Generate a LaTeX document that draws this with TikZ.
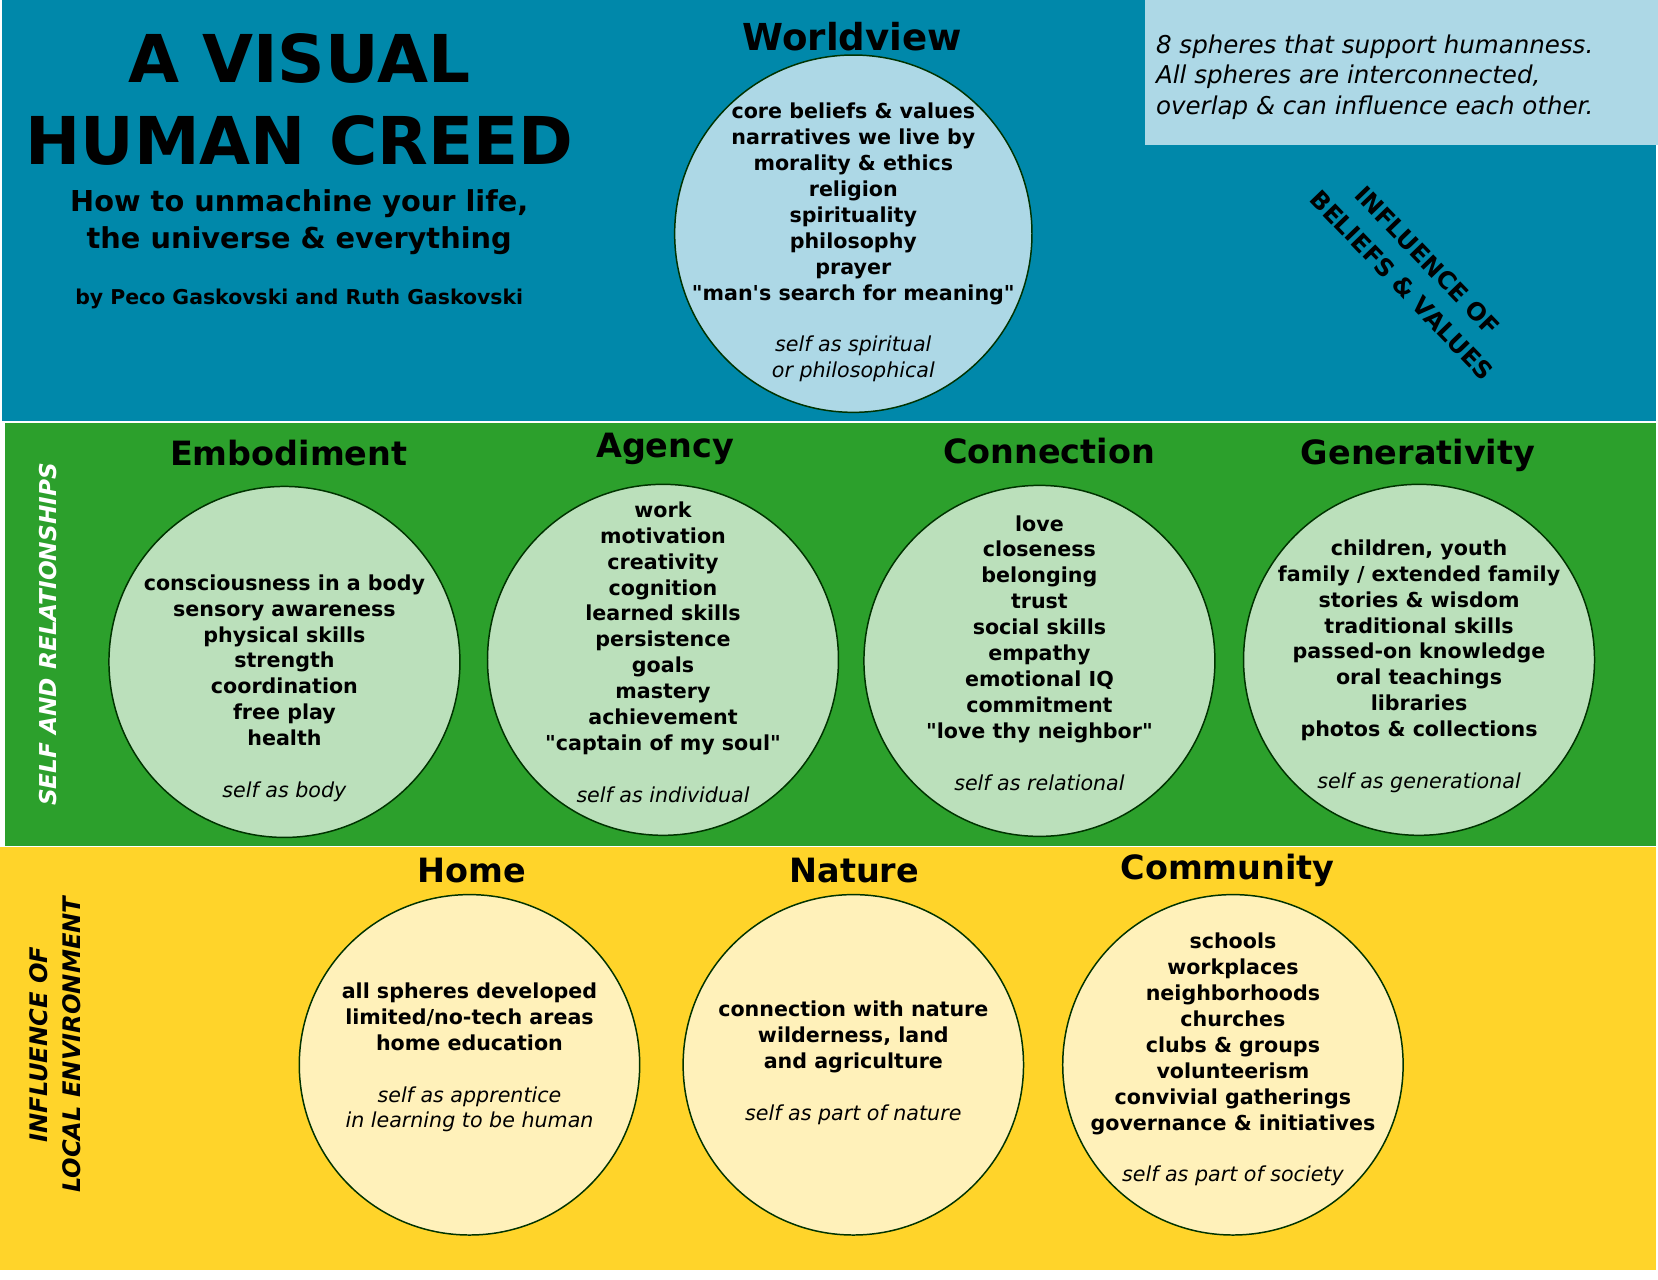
\documentclass[tikz,border=0pt]{standalone}
\usepackage{fontspec}
\setmainfont{DejaVu Sans}[Ligatures=TeXOff]
\definecolor{cblue}{HTML}{0088AA}
\definecolor{clblue}{HTML}{ADD8E6}
\definecolor{cgreen}{HTML}{2CA02C}
\definecolor{clgreen}{HTML}{BBE0BB}
\definecolor{cyel}{HTML}{FFD42A}
\definecolor{clyel}{HTML}{FFF1BA}
\newcommand{\dq}{\symbol{34}}
\begin{document}
\begin{tikzpicture}[x=0.02cm,y=-0.02cm,
  sph/.style={circle,draw=black!80!green,line width=0.8pt,inner sep=0},
  ttl/.style={font=\fontsize{18}{20}\selectfont\bfseries},
  body/.style={align=center,anchor=north,inner sep=0,font=\fontsize{11.1}{13.95}\selectfont\bfseries},
  side/.style={align=center,font=\fontsize{12.5}{15}\selectfont\bfseries\itshape}]
\useasboundingbox (0,0) rectangle (1568,1210);
\fill[white] (0,0) rectangle (1568,1210);
\fill[cblue] (2,0) rectangle (1566,398);
\fill[cgreen] (5,400) rectangle (1566,800);
\fill[cyel] (0,801) rectangle (1566,1201);
\fill[clblue] (1083,0) rectangle (1568,137);
% title
\node[align=center,font=\fontsize{35.5}{44}\selectfont\bfseries] (title) at (283,94) {A VISUAL\\HUMAN CREED};
\node[align=center,font=\fontsize{15.5}{20}\selectfont\bfseries] (sub) at (283,210) {How to unmachine your life,\\the universe \& everything};
\node[font=\fontsize{11}{14}\selectfont\bfseries] (by) at (283,283) {by Peco Gaskovski and Ruth Gaskovski};
\node[align=left,anchor=west,inner sep=0,font=\fontsize{13.2}{16.2}\selectfont\itshape] (desc) at (1093,73) {8 spheres that support humanness.\\All spheres are interconnected,\\overlap \& can influence each other.};
\node[side,rotate=-46,text=black,font=\fontsize{13}{19}\selectfont\bfseries] (infb) at (1338,258) {INFLUENCE OF\\BELIEFS \& VALUES};
\node[side,rotate=90,text=white] (self) at (45,600) {SELF AND RELATIONSHIPS};
\node[side,rotate=90,text=black,font=\fontsize{13}{18}\selectfont\bfseries\itshape] (infl) at (52,988) {INFLUENCE OF\\LOCAL ENVIRONMENT};
% spheres
\node[sph,fill=clblue,minimum size=6.76cm] (w) at (807,221) {};
\node[ttl,font=\fontsize{20}{22}\selectfont\bfseries] (wt) at (806,35) {Worldview};
\node[body] (wb) at (807,97) {core beliefs \& values\\narratives we live by\\morality \& ethics\\religion\\spirituality\\philosophy\\prayer\\\dq man's search for meaning\dq\\ \\\normalfont\itshape self as spiritual\\\normalfont\itshape or philosophical};
\foreach \n/\x/\y/\t/\tx/\ty in {e/269/626/Embodiment/273/428,a/627/624/Agency/629/425,c/983/625/Connection/992/427,g/1342/624/Generativity/1341/431}{
  \node[sph,fill=clgreen,minimum size=6.64cm] (\n) at (\x,\y) {};
  \node[ttl] (\n t) at (\tx,\ty) {\t};
}
\node[body] (eb) at (269,543) {consciousness in a body\\sensory awareness\\physical skills\\strength\\coordination\\free play\\health\\ \\\normalfont\itshape self as body};
\node[body] (ab) at (627,474) {work\\motivation\\creativity\\cognition\\learned skills\\persistence\\goals\\mastery\\achievement\\\dq captain of my soul\dq\\ \\\normalfont\itshape self as individual};
\node[body] (cb) at (983,487) {love\\closeness\\belonging\\trust\\social skills\\empathy\\emotional IQ\\commitment\\\dq love thy neighbor\dq\\ \\\normalfont\itshape self as relational};
\node[body] (gb) at (1342,510) {children, youth\\family / extended family\\stories \& wisdom\\traditional skills\\passed-on knowledge\\oral teachings\\libraries\\photos \& collections\\ \\\normalfont\itshape self as generational};
\foreach \n/\x/\tx/\t in {h/444/446/Home,n/807/808/Nature,m/1166/1161/Community}{
  \node[sph,fill=clyel,minimum size=6.44cm] (\n) at (\x,1007) {};
  \node[ttl] (\n t) at (\tx,823) {\t};
}
\node[body] (hb) at (444,929) {all spheres developed\\limited/no-tech areas\\home education\\ \\\normalfont\itshape self as apprentice\\\normalfont\itshape in learning to be human};
\node[body] (nb) at (807,946) {connection with nature\\wilderness, land\\and agriculture\\ \\\normalfont\itshape self as part of nature};
\node[body] (mb) at (1166,882) {schools\\workplaces\\neighborhoods\\churches\\clubs \& groups\\volunteerism\\convivial gatherings\\governance \& initiatives\\ \\\normalfont\itshape self as part of society};
\end{tikzpicture}
\end{document}
